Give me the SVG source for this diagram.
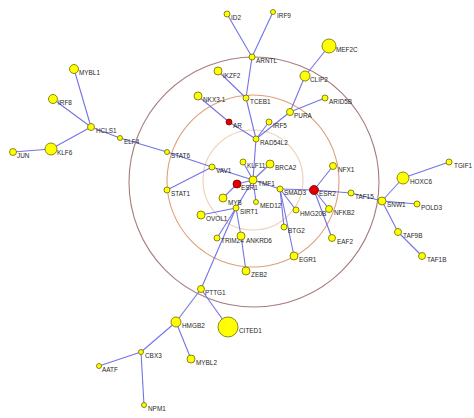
<svg xmlns="http://www.w3.org/2000/svg" width="474" height="418" viewBox="0 0 474 418">
<style>
.ring{fill:none;stroke-width:1.1}
.e{stroke:#7373e6;stroke-width:1.1;fill:none}
.n{fill:#ffff00;stroke:#6b6b00;stroke-width:0.8}
.r{fill:#e00000;stroke:#7a0000;stroke-width:0.8}
text{font-family:"Liberation Sans",Arial,sans-serif;font-size:6.4px;fill:#262626}
</style>
<rect width="474" height="418" fill="#ffffff"/>
<g id="rings">
<circle class="ring" cx="254" cy="182" r="125" stroke="#a67c7c"/>
<circle class="ring" cx="253" cy="181" r="86" stroke="#dda07a"/>
<circle class="ring" cx="253" cy="180" r="50" stroke="#efcfb4"/>
</g>
<g id="connectors">
<line class="e" x1="227" y1="14" x2="252" y2="57"/>
<line class="e" x1="273" y1="12" x2="252" y2="57"/>
<line class="e" x1="252" y1="57" x2="246" y2="98"/>
<line class="e" x1="218" y1="71" x2="246" y2="98"/>
<line class="e" x1="246" y1="98" x2="256" y2="139"/>
<line class="e" x1="198" y1="96" x2="229" y2="122"/>
<line class="e" x1="229" y1="122" x2="256" y2="139"/>
<line class="e" x1="269" y1="122" x2="256" y2="139"/>
<line class="e" x1="290" y1="112" x2="256" y2="139"/>
<line class="e" x1="305" y1="76" x2="290" y2="112"/>
<line class="e" x1="329" y1="46" x2="305" y2="76"/>
<line class="e" x1="325" y1="98" x2="290" y2="112"/>
<line class="e" x1="256" y1="139" x2="253" y2="180"/>
<line class="e" x1="74" y1="69" x2="91" y2="127"/>
<line class="e" x1="53" y1="99" x2="91" y2="127"/>
<line class="e" x1="91" y1="127" x2="51" y2="149"/>
<line class="e" x1="51" y1="149" x2="13" y2="152"/>
<line class="e" x1="91" y1="127" x2="120" y2="138"/>
<line class="e" x1="120" y1="138" x2="167" y2="152"/>
<line class="e" x1="167" y1="152" x2="212" y2="167"/>
<line class="e" x1="167" y1="190" x2="212" y2="167"/>
<line class="e" x1="212" y1="167" x2="253" y2="180"/>
<line class="e" x1="243" y1="162" x2="253" y2="180"/>
<line class="e" x1="270" y1="164" x2="253" y2="180"/>
<line class="e" x1="237" y1="184" x2="253" y2="180"/>
<line class="e" x1="253" y1="180" x2="280" y2="189"/>
<line class="e" x1="253" y1="180" x2="256" y2="202"/>
<line class="e" x1="237" y1="184" x2="223" y2="198"/>
<line class="e" x1="253" y1="180" x2="236" y2="208"/>
<line class="e" x1="236" y1="208" x2="201" y2="215"/>
<line class="e" x1="236" y1="208" x2="217" y2="238"/>
<line class="e" x1="236" y1="208" x2="201" y2="289"/>
<line class="e" x1="236" y1="208" x2="241" y2="236"/>
<line class="e" x1="241" y1="236" x2="246" y2="271"/>
<line class="e" x1="280" y1="189" x2="314" y2="190"/>
<line class="e" x1="280" y1="189" x2="296" y2="210"/>
<line class="e" x1="280" y1="189" x2="284" y2="227"/>
<line class="e" x1="280" y1="189" x2="294" y2="256"/>
<line class="e" x1="314" y1="190" x2="333" y2="166"/>
<line class="e" x1="314" y1="190" x2="351" y2="193"/>
<line class="e" x1="314" y1="190" x2="329" y2="209"/>
<line class="e" x1="314" y1="190" x2="332" y2="238"/>
<line class="e" x1="351" y1="193" x2="382" y2="201"/>
<line class="e" x1="382" y1="201" x2="403" y2="178"/>
<line class="e" x1="403" y1="178" x2="449" y2="162"/>
<line class="e" x1="382" y1="201" x2="417" y2="204"/>
<line class="e" x1="382" y1="201" x2="398" y2="232"/>
<line class="e" x1="398" y1="232" x2="422" y2="256"/>
<line class="e" x1="201" y1="289" x2="176" y2="322"/>
<line class="e" x1="201" y1="289" x2="228" y2="327"/>
<line class="e" x1="176" y1="322" x2="191" y2="359"/>
<line class="e" x1="176" y1="322" x2="141" y2="352"/>
<line class="e" x1="141" y1="352" x2="99" y2="366"/>
<line class="e" x1="141" y1="352" x2="144" y2="405"/>
</g>
<g id="ID2"><circle class="n" cx="227" cy="14" r="3"/><text x="231" y="20">ID2</text></g>
<g id="IRF9"><circle class="n" cx="273" cy="12" r="2.5"/><text x="277" y="18">IRF9</text></g>
<g id="ARNTL"><circle class="n" cx="252" cy="57" r="3"/><text x="256" y="63">ARNTL</text></g>
<g id="MEF2C"><circle class="n" cx="329" cy="46" r="7"/><text x="336" y="52">MEF2C</text></g>
<g id="CLIP2"><circle class="n" cx="305" cy="76" r="5"/><text x="310" y="82">CLIP2</text></g>
<g id="TCEB1"><circle class="n" cx="246" cy="98" r="3"/><text x="250" y="104">TCEB1</text></g>
<g id="ARID5B"><circle class="n" cx="325" cy="98" r="3"/><text x="329" y="104">ARID5B</text></g>
<g id="PURA"><circle class="n" cx="290" cy="112" r="3.5"/><text x="294" y="118">PURA</text></g>
<g id="IRF5"><circle class="n" cx="269" cy="122" r="3"/><text x="273" y="128">IRF5</text></g>
<g id="RAD54L2"><circle class="n" cx="256" cy="139" r="3"/><text x="260" y="145">RAD54L2</text></g>
<g id="IKZF2"><circle class="n" cx="218" cy="71" r="4"/><text x="223" y="78">IKZF2</text></g>
<g id="NKX3-1"><circle class="n" cx="198" cy="96" r="4"/><text x="203" y="102">NKX3-1</text></g>
<g id="AR"><circle class="r" cx="229" cy="122" r="3"/><text x="233" y="128">AR</text></g>
<g id="MYBL1"><circle class="n" cx="74" cy="69" r="4.5"/><text x="79" y="75">MYBL1</text></g>
<g id="IRF8"><circle class="n" cx="53" cy="99" r="4.5"/><text x="58" y="105">IRF8</text></g>
<g id="HCLS1"><circle class="n" cx="91" cy="127" r="3.5"/><text x="96" y="133">HCLS1</text></g>
<g id="ELF4"><circle class="n" cx="120" cy="138" r="2.5"/><text x="124" y="144">ELF4</text></g>
<g id="KLF6"><circle class="n" cx="51" cy="149" r="6"/><text x="57" y="155">KLF6</text></g>
<g id="JUN"><circle class="n" cx="13" cy="152" r="3.5"/><text x="17" y="158">JUN</text></g>
<g id="STAT6"><circle class="n" cx="167" cy="152" r="2.5"/><text x="171" y="158">STAT6</text></g>
<g id="VAV1"><circle class="n" cx="212" cy="167" r="3"/><text x="216" y="173">VAV1</text></g>
<g id="STAT1"><circle class="n" cx="167" cy="190" r="3"/><text x="171" y="196">STAT1</text></g>
<g id="KLF11"><circle class="n" cx="243" cy="162" r="3"/><text x="247" y="168">KLF11</text></g>
<g id="BRCA2"><circle class="n" cx="270" cy="164" r="4"/><text x="275" y="170">BRCA2</text></g>
<g id="TMF1"><circle class="n" cx="253" cy="180" r="4"/><text x="258" y="186">TMF1</text></g>
<g id="ESR1"><circle class="r" cx="237" cy="184" r="4"/><text x="241" y="190">ESR1</text></g>
<g id="MYB"><circle class="n" cx="223" cy="198" r="4"/><text x="228" y="205">MYB</text></g>
<g id="MED12"><circle class="n" cx="256" cy="202" r="2.5"/><text x="260" y="208">MED12</text></g>
<g id="SIRT1"><circle class="n" cx="236" cy="208" r="3"/><text x="240" y="214">SIRT1</text></g>
<g id="OVOL1"><circle class="n" cx="201" cy="215" r="4"/><text x="206" y="221">OVOL1</text></g>
<g id="TRIM24"><circle class="n" cx="217" cy="238" r="3"/><text x="221" y="243">TRIM24</text></g>
<g id="ANKRD6"><circle class="n" cx="241" cy="236" r="4"/><text x="246" y="243">ANKRD6</text></g>
<g id="ZEB2"><circle class="n" cx="246" cy="271" r="4"/><text x="251" y="277">ZEB2</text></g>
<g id="SMAD3"><circle class="n" cx="280" cy="189" r="3"/><text x="284" y="195">SMAD3</text></g>
<g id="HMG20B"><circle class="n" cx="296" cy="210" r="3"/><text x="300" y="216">HMG20B</text></g>
<g id="BTG2"><circle class="n" cx="284" cy="227" r="3"/><text x="288" y="233">BTG2</text></g>
<g id="EGR1"><circle class="n" cx="294" cy="256" r="4"/><text x="299" y="262">EGR1</text></g>
<g id="ESR2"><circle class="r" cx="314" cy="190" r="4.5"/><text x="319" y="196">ESR2</text></g>
<g id="NFX1"><circle class="n" cx="333" cy="166" r="3.5"/><text x="338" y="172">NFX1</text></g>
<g id="TAF15"><circle class="n" cx="351" cy="193" r="3"/><text x="355" y="199">TAF15</text></g>
<g id="NFKB2"><circle class="n" cx="329" cy="209" r="3.5"/><text x="334" y="215">NFKB2</text></g>
<g id="EAF2"><circle class="n" cx="332" cy="238" r="3.5"/><text x="337" y="244">EAF2</text></g>
<g id="SNW1"><circle class="n" cx="382" cy="201" r="4"/><text x="387" y="207">SNW1</text></g>
<g id="HOXC6"><circle class="n" cx="403" cy="178" r="6"/><text x="410" y="184">HOXC6</text></g>
<g id="TGIF1"><circle class="n" cx="449" cy="162" r="3"/><text x="454" y="168">TGIF1</text></g>
<g id="POLD3"><circle class="n" cx="417" cy="204" r="3"/><text x="421" y="210">POLD3</text></g>
<g id="TAF9B"><circle class="n" cx="398" cy="232" r="3.5"/><text x="403" y="238">TAF9B</text></g>
<g id="TAF1B"><circle class="n" cx="422" cy="256" r="3.5"/><text x="427" y="262">TAF1B</text></g>
<g id="PTTG1"><circle class="n" cx="201" cy="289" r="3.5"/><text x="205" y="295">PTTG1</text></g>
<g id="HMGB2"><circle class="n" cx="176" cy="322" r="5"/><text x="182" y="328">HMGB2</text></g>
<g id="CITED1"><circle class="n" cx="228" cy="327" r="10"/><text x="239" y="333">CITED1</text></g>
<g id="MYBL2"><circle class="n" cx="191" cy="359" r="4"/><text x="196" y="365">MYBL2</text></g>
<g id="CBX3"><circle class="n" cx="141" cy="352" r="2.5"/><text x="145" y="358">CBX3</text></g>
<g id="AATF"><circle class="n" cx="99" cy="366" r="2.5"/><text x="102" y="372">AATF</text></g>
<g id="NPM1"><circle class="n" cx="144" cy="405" r="2.5"/><text x="148" y="411">NPM1</text></g>
</svg>
